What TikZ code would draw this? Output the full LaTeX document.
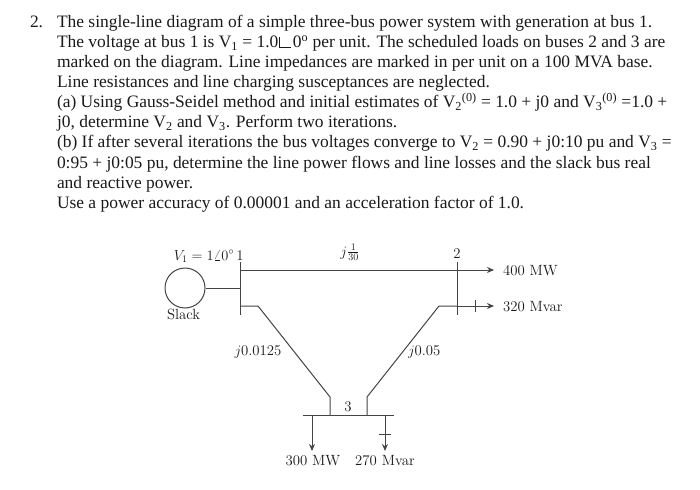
\documentclass[tikz,border=0pt]{standalone}
\usepackage{fontspec}
\newfontfamily\bodyfont{Liberation Serif}
\usetikzlibrary{arrows.meta}
\definecolor{ink}{HTML}{1a1a1a}
\definecolor{wire}{HTML}{444444}
\newcommand{\rang}{\kern0.5pt\rule{0.9pt}{11pt}\rule{11pt}{0.9pt}\kern2pt}
\newcommand{\ssub}[1]{\textsubscript{#1}}
\newcommand{\ssup}[1]{\textsuperscript{#1}}
\tikzset{
  textline/.style={anchor=base west,inner sep=0pt,outer sep=0pt,text=ink,font=\bodyfont\fontsize{17.45}{20}\selectfont},
  lab/.style={inner sep=0pt,outer sep=0pt,text=ink,font=\fontsize{14.8}{16}\selectfont},
  wirestyle/.style={draw=wire,line width=1pt},
  loadarrow/.style={wirestyle,-{Stealth[length=7pt,width=6pt]}},
}
\begin{document}
\begin{tikzpicture}[x=1pt,y=-1pt]
\useasboundingbox[fill=white] (0,0) rectangle (700,489);
% problem text
\node[textline] (num) at (30,28) {2.};
\node[textline] (l1) at (57,28) {The single-line diagram of a simple three-bus power system with generation at bus 1.};
\node[textline] (l2) at (57,48) {The voltage at bus 1 is V\ssub{1} = 1.0\rang0\ssup{o} per unit. The scheduled loads on buses 2 and 3 are};
\node[textline] (l3) at (57,68) {marked on the diagram. Line impedances are marked in per unit on a 100 MVA base.};
\node[textline] (l4) at (57,88) {Line resistances and line charging susceptances are neglected.};
\node[textline] (l5) at (57,108) {(a) Using Gauss-Seidel method and initial estimates of V\ssub{2}\ssup{(0)} = 1.0 + j0 and V\ssub{3}\ssup{(0)} =1.0 +};
\node[textline] (l6) at (57,128) {j0, determine V\ssub{2} and V\ssub{3}. Perform two iterations.};
\node[textline] (l7) at (57,148) {(b) If after several iterations the bus voltages converge to V\ssub{2} = 0.90 + j0:10 pu and V\ssub{3} =};
\node[textline] (l8) at (57,168) {0:95 + j0:05 pu, determine the line power flows and line losses and the slack bus real};
\node[textline] (l9) at (57,188) {and reactive power.};
\node[textline] (l10) at (57,208) {Use a power accuracy of 0.00001 and an acceleration factor of 1.0.};
% coordinates
\coordinate (b1t) at (240,262);
\coordinate (b1b) at (240,315);
\coordinate (b2t) at (457,262);
\coordinate (b2b) at (457,315);
\coordinate (b3l) at (303,415);
\coordinate (b3r) at (394,415);
\coordinate (b1a) at (240,270);
\coordinate (b1g) at (240,288);
\coordinate (b1c) at (240,306);
\coordinate (b2c) at (457,306);
\coordinate (k1) at (258,306);
\coordinate (k1b) at (330,397);
\coordinate (k1c) at (330,415);
\coordinate (k2) at (439,306);
\coordinate (k2b) at (367,397);
\coordinate (k2c) at (367,415);
\coordinate (p2) at (494,270);
\coordinate (q2) at (494,306);
\coordinate (t2a) at (475,300);
\coordinate (t2b) at (475,312);
\coordinate (s3p) at (312,415);
\coordinate (e3p) at (312,451);
\coordinate (s3q) at (385,415);
\coordinate (e3q) at (385,451);
\coordinate (t3a) at (379,434);
\coordinate (t3b) at (391,434);
% generator
\node[circle,wirestyle,minimum size=40pt,inner sep=0pt] (gen) at (185,288) {};
% buses
\draw[wirestyle] (b1t) -- (b1b);
\draw[wirestyle] (b2t) -- (b2b);
\draw[wirestyle] (b3l) -- (b3r);
% lines
\draw[wirestyle] (gen.east) -- (b1g);
\draw[wirestyle] (b1a) -- (b2t |- b1a);
\draw[wirestyle] (b1c) -- (k1) -- (k1b) -- (k1c);
\draw[wirestyle] (b2c) -- (k2) -- (k2b) -- (k2c);
% loads
\draw[loadarrow] (b2t |- b1a) -- (p2);
\draw[loadarrow] (b2c) -- (q2);
\draw[wirestyle] (t2a) -- (t2b);
\draw[loadarrow] (s3p) -- (e3p);
\draw[loadarrow] (s3q) -- (e3q);
\draw[wirestyle] (t3a) -- (t3b);
% labels
\node[lab,anchor=base east] (v1) at (234,260) {$V_1 = 1\angle 0^\circ$};
\node[lab,anchor=base] (n1) at (240,260) {1};
\node[lab,anchor=base] (z12) at (350,256) {$j\frac{1}{30}$};
\node[lab,anchor=base] (n2) at (457,258) {2};
\node[lab,anchor=base west] (pl2) at (503,275) {400 MW};
\node[lab,anchor=base west] (ql2) at (503,311.5) {320 Mvar};
\node[lab,anchor=base west] (slack) at (167,319) {Slack};
\node[lab,anchor=base] (z13) at (258,355) {$j$0.0125};
\node[lab,anchor=base west] (z23) at (408,355) {$j$0.05};
\node[lab,anchor=base] (n3) at (348,411) {3};
\node[lab,anchor=base] (pl3) at (313,465) {300 MW};
\node[lab,anchor=base] (ql3) at (385,465) {270 Mvar};
\end{tikzpicture}
\end{document}
